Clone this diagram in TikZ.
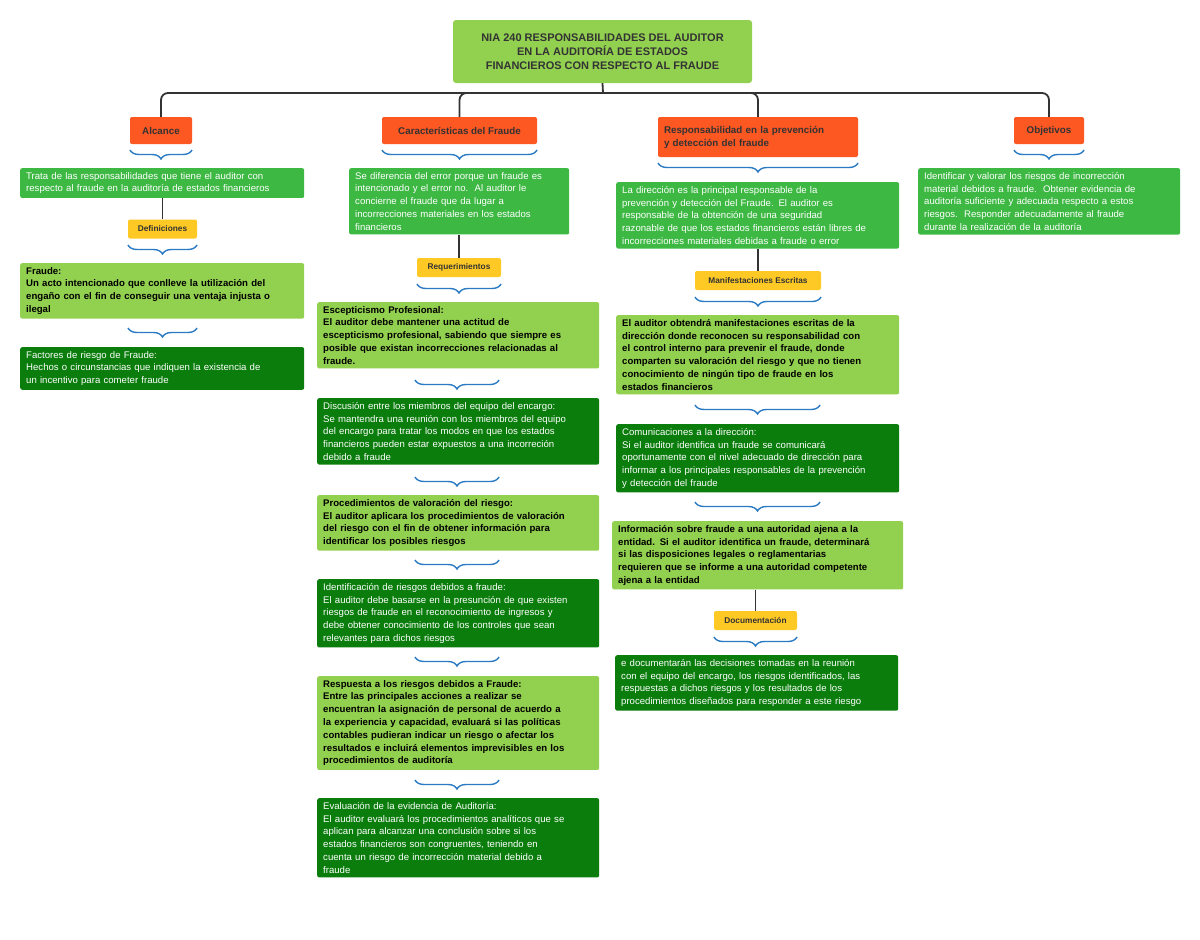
\documentclass[tikz,border=0pt]{standalone}
\usepackage{fontspec}
\setmainfont{Liberation Sans}
\usetikzlibrary{decorations.pathreplacing}
\definecolor{naranja}{HTML}{FD5722}
\definecolor{verdemed}{HTML}{3DB843}
\definecolor{verdeclaro}{HTML}{92D050}
\definecolor{verdeosc}{HTML}{0A7D0C}
\definecolor{amarillo}{HTML}{FFC925}
\definecolor{azul}{HTML}{2A7BC4}
\definecolor{gris}{HTML}{333333}
\tikzset{
	caja/.style={anchor=north west, rounded corners=2pt, inner xsep=6pt, inner ysep=4pt, align=left, font=\fontsize{9.6}{12.8}\selectfont},
	med/.style={caja, fill=verdemed, text=white},
	claro/.style={caja, fill=verdeclaro, text=black, font=\fontsize{9.6}{12.8}\selectfont\bfseries},
	osc/.style={caja, fill=verdeosc, text=white},
	cabeza/.style={fill=naranja, text=gris, rounded corners=2pt, font=\fontsize{9.8}{13}\selectfont\bfseries, inner sep=0pt, minimum height=27pt},
	etiqueta/.style={fill=amarillo, text=gris, rounded corners=2pt, font=\fontsize{8.3}{10}\selectfont\bfseries, inner sep=0pt, minimum height=19pt},
	arbol/.style={draw=gris, line width=1.8pt, rounded corners=7pt},
	enlace/.style={draw=gris, line width=1.2pt},
	llave/.style={draw=azul, line width=1.4pt, decorate, decoration={brace, mirror, amplitude=9pt}}
}
\begin{document}
\begin{tikzpicture}[x=1pt, y=-1pt]
	\useasboundingbox[fill=white] (0,0) rectangle (1200,940);
	% Title
	\node[fill=verdeclaro, rounded corners=3pt, minimum width=299pt, minimum height=63pt, align=center, text=gris, font=\fontsize{11}{14}\selectfont\bfseries] (titulo) at (602.5,51.5) {NIA 240 RESPONSABILIDADES DEL AUDITOR\\EN LA AUDITORÍA DE ESTADOS\\FINANCIEROS CON RESPECTO AL FRAUDE};
	% Heads
	\node[cabeza, minimum width=62pt] (alcance) at (161,130.5) {Alcance};
	\node[cabeza, minimum width=155pt] (caract) at (459.5,130.5) {Características del Fraude};
	\node[cabeza, minimum width=200pt, minimum height=40pt, align=left, text width=188pt] (respon) at (758,137) {Responsabilidad en la prevención\\y detección del fraude};
	\node[cabeza, minimum width=70pt] (objet) at (1049,130.5) {Objetivos};
	% Tree
	\coordinate (barra) at (603,93);
	\draw[enlace, line width=1.8pt] (titulo.south) -- (barra);
	\foreach \n in {alcance, caract, respon, objet}
		\draw[arbol] (\n.north) |- (barra);
	% Column 1
	\node[med, text width=272pt] (trata) at (20,168) {Trata de las responsabilidades que tiene el auditor con\\respecto al fraude en la auditoría de estados financieros};
	\node[etiqueta, minimum width=69pt] (defin) at (162.5,229) {Definiciones};
	\node[claro, text width=272pt] (fraude) at (20,263) {Fraude:\\Un acto intencionado que conlleve la utilización del\\engaño con el fin de conseguir una ventaja injusta o\\ilegal};
	\node[osc, text width=272pt] (factores) at (20,347) {Factores de riesgo de Fraude:\\Hechos o circunstancias que indiquen la existencia de\\un incentivo para cometer fraude};
	% Column 2
	\node[med, text width=208pt] (difer) at (349,168) {Se diferencia del error porque un fraude es\\intencionado y el error no.\ \ Al auditor le\\concierne el fraude que da lugar a\\incorrecciones materiales en los estados\\financieros};
	\node[etiqueta, minimum width=84pt] (requer) at (459,267.5) {Requerimientos};
	\node[claro, text width=270pt] (escep) at (317,302) {Escepticismo Profesional:\\El auditor debe mantener una actitud de\\escepticismo profesional, sabiendo que siempre es\\posible que existan incorrecciones relacionadas al\\fraude.};
	\node[osc, text width=270pt] (discu) at (317,398) {Discusión entre los miembros del equipo del encargo:\\Se mantendra una reunión con los miembros del equipo\\del encargo para tratar los modos en que los estados\\financieros pueden estar expuestos a una incorreción\\debido a fraude};
	\node[claro, text width=270pt] (proced) at (317,495) {Procedimientos de valoración del riesgo:\\El auditor aplicara los procedimientos de valoración\\del riesgo con el fin de obtener información para\\identificar los posibles riesgos};
	\node[osc, text width=270pt] (identif) at (317,579) {Identificación de riesgos debidos a fraude:\\El auditor debe basarse en la presunción de que existen\\riesgos de fraude en el reconocimiento de ingresos y\\debe obtener conocimiento de los controles que sean\\relevantes para dichos riesgos};
	\node[claro, text width=270pt] (respuesta) at (317,676) {Respuesta a los riesgos debidos a Fraude:\\Entre las principales acciones a realizar se\\encuentran la asignación de personal de acuerdo a\\la experiencia y capacidad, evaluará si las políticas\\contables pudieran indicar un riesgo o afectar los\\resultados e incluirá elementos imprevisibles en los\\procedimientos de auditoría};
	\node[osc, text width=270pt] (evalua) at (317,798) {Evaluación de la evidencia de Auditoría:\\El auditor evaluará los procedimientos analíticos que se\\aplican para alcanzar una conclusión sobre si los\\estados financieros son congruentes, teniendo en\\cuenta un riesgo de incorrección material debido a\\fraude};
	% Column 3
	\node[med, text width=271pt] (direcc) at (616,182) {La dirección es la principal responsable de la\\prevención y detección del Fraude. El auditor es\\responsable de la obtención de una seguridad\\razonable de que los estados financieros están libres de\\incorrecciones materiales debidas a fraude o error};
	\node[etiqueta, minimum width=126pt] (manif) at (758,280.5) {Manifestaciones Escritas};
	\node[claro, text width=271pt] (obtend) at (616,315) {El auditor obtendrá manifestaciones escritas de la\\dirección donde reconocen su responsabilidad con\\el control interno para prevenir el fraude, donde\\comparten su valoración del riesgo y que no tienen\\conocimiento de ningún tipo de fraude en los\\estados financieros};
	\node[osc, text width=271pt] (comun) at (616,424) {Comunicaciones a la dirección:\\Si el auditor identifica un fraude se comunicará\\oportunamente con el nivel adecuado de dirección para\\informar a los principales responsables de la prevención\\y detección del fraude};
	\node[claro, text width=279pt] (inform) at (612,521) {Información sobre fraude a una autoridad ajena a la\\entidad. Si el auditor identifica un fraude, determinará\\si las disposiciones legales o reglamentarias\\requieren que se informe a una autoridad competente\\ajena a la entidad};
	\node[etiqueta, minimum width=83pt] (docum) at (755.5,620.5) {Documentación};
	\node[osc, text width=271pt] (docfin) at (615,655) {e documentarán las decisiones tomadas en la reunión\\con el equipo del encargo, los riesgos identificados, las\\respuestas a dichos riesgos y los resultados de los\\procedimientos diseñados para responder a este riesgo};
	% Column 4
	\node[med, text width=250pt] (ident) at (918,168) {Identificar y valorar los riesgos de incorrección\\material debidos a fraude.\ \ Obtener evidencia de\\auditoría suficiente y adecuada respecto a estos\\riesgos.\ \ Responder adecuadamente al fraude\\durante la realización de la auditoría};
	% Links
	\draw[enlace] (trata.south -| defin.north) -- (defin.north);
	\draw[enlace] (difer.south -| requer.north) -- (requer.north);
	\draw[enlace] (direcc.south -| manif.north) -- (manif.north);
	\draw[enlace] (inform.south -| docum.north) -- (docum.north);
	% Braces
	\foreach \xa/\xb/\y in {130/192/150, 128/197/245, 128/197/328, 382/537/150, 417/501/284, 415/499/380, 415/499/477, 415/499/560, 415/499/657, 415/499/780, 658/858/163, 695/821/297, 695/820/405, 695/820/502, 714/797/637, 1014/1084/150}
		\draw[llave] (\xa,\y) -- (\xb,\y);
\end{tikzpicture}
\end{document}
